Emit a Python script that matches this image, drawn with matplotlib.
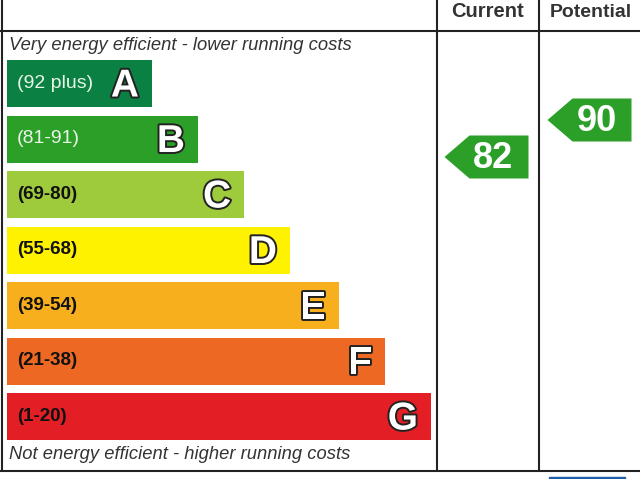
import matplotlib
matplotlib.use("Agg")
from matplotlib import pyplot as plt
from matplotlib import patheffects as pe

plt.rcParams['font.family'] = ['Liberation Sans', 'DejaVu Sans']

# energy bands, top to bottom
ranges = ['(92 plus)', '(81-91)', '(69-80)', '(55-68)', '(39-54)', '(21-38)', '(1-20)']
letters = ['A', 'B', 'C', 'D', 'E', 'F', 'G']
band_lengths = [145, 191, 237, 283, 332, 378, 424]
band_colors = ['#0a8043', '#2c9f29', '#9dcb3c', '#fff200', '#f7af1d', '#ed6823', '#e41e25']
range_colors = ['#e8f5e8', '#e8f5e8', '#111111', '#111111', '#111111', '#111111', '#111111']

current_score = 82
potential_score = 90
column_titles = ['Current', 'Potential']
top_note = 'Very energy efficient - lower running costs'
bottom_note = 'Not energy efficient - higher running costs'

fig = plt.figure(figsize=(6.4, 4.79), dpi=100)

# whole figure in pixels, for the table lines and the notes
ax = fig.add_axes([0, 0, 1, 1])
ax.set_xlim(0, 640)
ax.set_ylim(479, 0)
ax.axis('off')

line = dict(color='#222222', lw=1.5)
ax.plot([0, 640], [31, 31], **line)
ax.plot([0, 640], [470.5, 470.5], **line)
ax.plot([1.5, 1.5], [0, 470], **line)
ax.plot([436.5, 436.5], [0, 470], **line)
ax.plot([538.5, 538.5], [0, 470], **line)

ax.text(487.5, 11.5, column_titles[0], ha='center', va='center', fontsize=14.5,
        fontweight='bold', color='#333333')
ax.text(590.5, 12, column_titles[1], ha='center', va='center', fontsize=14,
        fontweight='bold', color='#333333')
ax.text(9, 45.5, top_note, ha='left', va='center', fontsize=13.2, style='italic', color='#333333')
ax.text(9, 454.5, bottom_note, ha='left', va='center', fontsize=13.2, style='italic', color='#333333')

# bit of a blue button cut off at the bottom edge
ax.fill([549, 625, 625, 549], [477, 477, 479, 479], color='#1c5fa8')

# the bars get their own axes, one row per band
bars = fig.add_axes([7 / 640, 1 - 444.5 / 479, 433 / 640, 388.5 / 479])
bars.set_xlim(0, 433)
bars.set_ylim(6.5, -0.5)
bars.axis('off')
rows = range(len(ranges))
bars.barh(rows, band_lengths, height=0.85, color=band_colors)

outline = [pe.withStroke(linewidth=2.8, foreground='#222222')]
for i in rows:
    bars.text(10, i - 0.01, ranges[i], ha='left', va='center', fontsize=14 if i < 2 else 13.5,
              fontweight='bold' if i > 1 else 'normal', color=range_colors[i])
    bars.text(band_lengths[i] - 13, i + 0.05, letters[i], ha='right', va='center', fontsize=28,
              fontweight='bold', color='white', path_effects=outline)


def score_y(score):
    # arrows sit on their own score scale, 82 at y=157, 90 at y=120
    return 157 - (score - 82) * 4.625


def score_arrow(score, right):
    y = score_y(score)
    xs = [right, right - 59, right - 84, right - 59, right]
    ys = [y - 21.5, y - 21.5, y, y + 21.5, y + 21.5]
    ax.fill(xs, ys, color='#2c9f29', lw=0)
    ax.text(right - 35, y + 1, str(score), ha='center', va='center', fontsize=26,
            fontweight='bold', color='white')


score_arrow(current_score, 528.5)
score_arrow(potential_score, 631.5)

fig.savefig('out.png', dpi=100)
